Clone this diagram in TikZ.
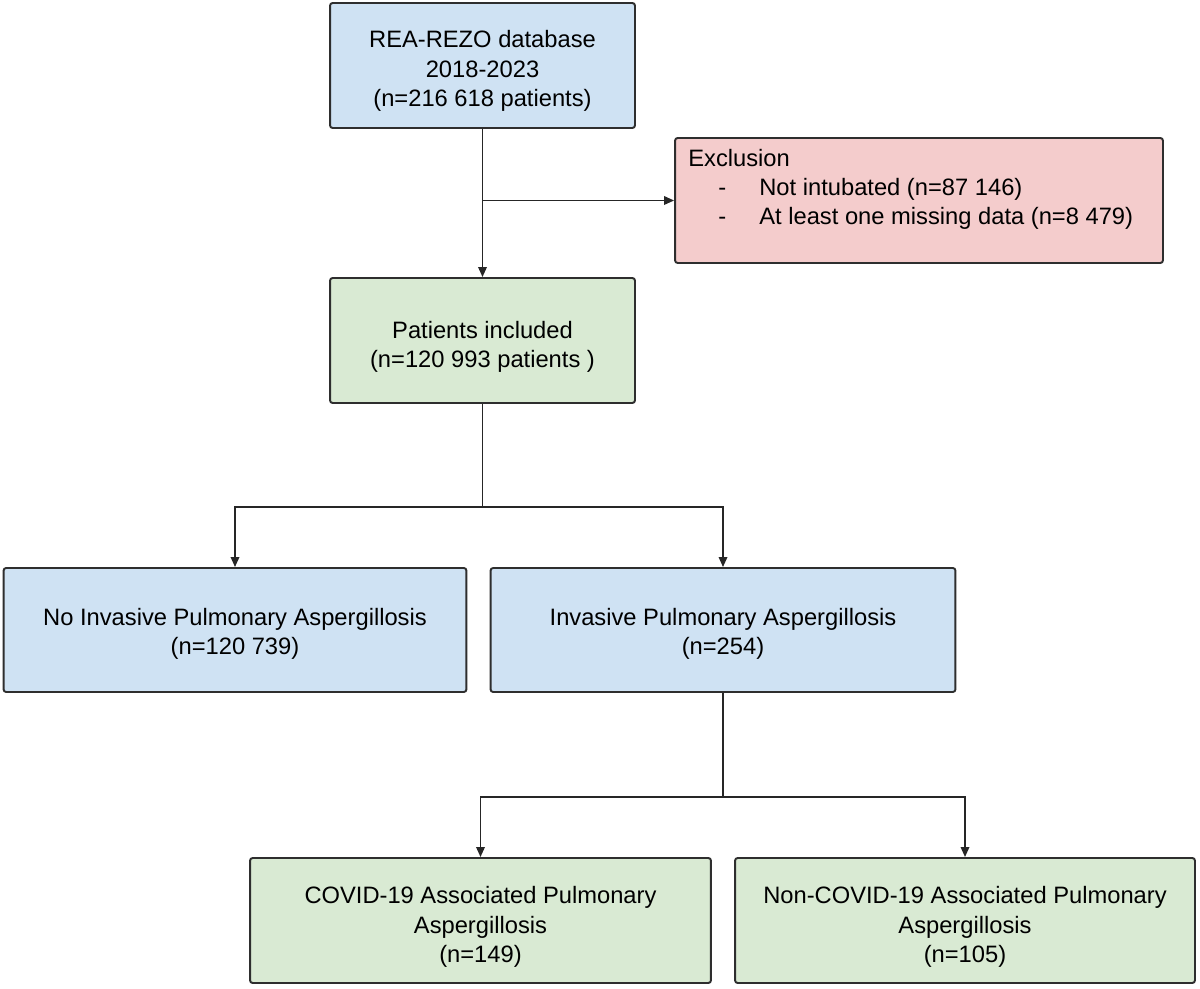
\documentclass[tikz,border=0pt]{standalone}
\usepackage{fontspec}
\setmainfont{Liberation Sans}
\usetikzlibrary{arrows.meta}
\definecolor{bluefill}{HTML}{CFE2F3}
\definecolor{pinkfill}{HTML}{F4CCCC}
\definecolor{greenfill}{HTML}{D9EAD3}
\definecolor{edgecol}{HTML}{2E2E2E}
\begin{document}
\begin{tikzpicture}[x=0.02cm,y=-0.02cm,
  box/.style={draw=edgecol, line width=1.1pt, rounded corners=1.5pt, inner sep=0pt},
  boxtext/.style={inner sep=0pt, align=center, font=\fontsize{13.5}{16.6}\selectfont},
  txt/.style={inner sep=0pt, align=left, font=\fontsize{13.5}{16.6}\selectfont},
  conn/.style={draw=black!85, line width=1pt},
  arr/.style={conn, -{Triangle[length=2mm,width=1.7mm]}}]
\useasboundingbox (0,0) rectangle (1200,989);
% boxes
\node[box, fill=bluefill, minimum width=6.1cm, minimum height=2.5cm] (rea) at (482.5,65.5) {};
\node[boxtext] (reatext) at ([yshift=-0.11cm]rea.center)
  {REA-REZO database\\2018-2023\\(n=216 618 patients)};
\node[box, fill=pinkfill, minimum width=9.76cm, minimum height=2.5cm] (excl) at (919,200.5) {};
\node[txt, anchor=north west] (excltext) at (688,149)
  {Exclusion\\
   \hspace*{0.6cm}\makebox[0.82cm][l]{-}Not intubated (n=87 146)\\
   \hspace*{0.6cm}\makebox[0.82cm][l]{-}At least one missing data (n=8 479)};
\node[box, fill=greenfill, minimum width=6.1cm, minimum height=2.5cm] (pat) at (482.5,340.5) {};
\node[boxtext] (pattext) at ([yshift=-0.12cm]pat.center)
  {Patients included\\(n=120 993 patients )};
\node[box, fill=bluefill, minimum width=9.26cm, minimum height=2.48cm] (noipa) at (235,630) {};
\node[boxtext] (noipatext) at ([yshift=-0.07cm]noipa.center)
  {No Invasive Pulmonary Aspergillosis\\(n=120 739)};
\node[box, fill=bluefill, minimum width=9.3cm, minimum height=2.48cm] (ipa) at (723,630) {};
\node[boxtext] (ipatext) at ([yshift=-0.07cm]ipa.center)
  {Invasive Pulmonary Aspergillosis\\(n=254)};
\node[box, fill=greenfill, minimum width=9.22cm, minimum height=2.5cm] (capa) at (480.5,920.5) {};
\node[boxtext] (capatext) at ([yshift=-0.13cm]capa.center)
  {COVID-19 Associated Pulmonary\\Aspergillosis\\(n=149)};
\node[box, fill=greenfill, minimum width=9.2cm, minimum height=2.5cm] (ncapa) at (965,920.5) {};
\node[boxtext] (ncapatext) at ([yshift=-0.13cm]ncapa.center)
  {Non-COVID-19 Associated Pulmonary\\Aspergillosis\\(n=105)};
% connectors
\draw[arr] (rea.south) -- (pat.north);
\coordinate (j0) at (rea.south |- excl.west);
\draw[arr] (j0) -- (excl.west);
\coordinate (b1) at (482.5,507);
\draw[conn] (pat.south) -- (b1);
\draw[arr] (b1) -| (noipa.north);
\draw[arr] (b1) -| (ipa.north);
\coordinate (b2) at (723,797);
\draw[conn] (ipa.south) -- (b2);
\draw[arr] (b2) -| (capa.north);
\draw[arr] (b2) -| (ncapa.north);
\end{tikzpicture}
\end{document}
